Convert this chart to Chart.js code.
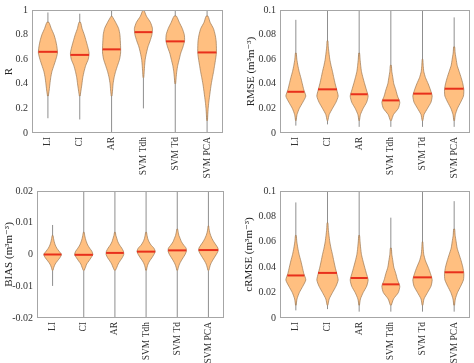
<!DOCTYPE html>
<html>
<head>
<meta charset="utf-8">
<script src="https://cdn.jsdelivr.net/npm/chart.js@4.4.1/dist/chart.umd.min.js"></script>
<style>
  html, body { margin: 0; padding: 0; background: #fff; }
  #wrap { position: relative; width: 474px; height: 363px; }
  canvas { position: absolute; }
</style>
</head>
<body>
<div id="wrap">
  <canvas id="c-r" width="226" height="181" style="left:0;top:0"></canvas>
  <canvas id="c-rmse" width="237" height="181" style="left:237px;top:0"></canvas>
  <canvas id="c-bias" width="228" height="182" style="left:0;top:181px"></canvas>
  <canvas id="c-crmse" width="237" height="182" style="left:237px;top:181px"></canvas>
</div>
<script>
const methods = ['LI', 'CI', 'AR', 'SVM Tdh', 'SVM Td', 'SVM PCA'];

// R panel: density (relative half-width) at each level, 0 = only the thin tail
const rLevels = [0, 0.05, 0.1, 0.15, 0.2, 0.25, 0.3, 0.35, 0.4, 0.45, 0.5, 0.55, 0.6, 0.65, 0.7, 0.75, 0.8, 0.85, 0.9, 0.95, 1];
const rLI   = [0, 0, 0, 0, 0, 0, 0.4, 1.3, 2, 2.8, 4, 6, 8, 9.5, 9, 7.8, 6, 3.3, 1, 0, 0];
const rCI   = [0, 0, 0, 0, 0, 0, 0.4, 1.3, 2.2, 3, 4.3, 6, 8.5, 9.3, 8, 6.3, 4.5, 2.3, 0.8, 0, 0];
const rAR   = [0, 0, 0, 0, 0, 0, 0.4, 1, 1.5, 2.5, 4, 6, 8, 9, 9, 8.7, 8.3, 7, 4, 0.4, 0];
const rTdh  = [0, 0, 0, 0, 0, 0, 0, 0, 0, 0.4, 0.8, 1.2, 1.8, 3, 4.5, 6.7, 8.5, 9, 7, 3, 0.5];
const rTd   = [0, 0, 0, 0, 0, 0, 0, 0, 0.4, 0.9, 1.5, 2.5, 4, 5.5, 7.7, 9.3, 9, 7, 4, 1.2, 0];
const rPCA  = [0, 0, 0.4, 0.7, 1.1, 1.7, 2.5, 3.3, 4.2, 5.3, 6.5, 7.5, 8.5, 9.3, 9.3, 9, 8, 6.3, 3, 1, 0];
const rMedian = [0.66, 0.635, 0.68, 0.82, 0.745, 0.655];
const rMedianDensity = [9.5, 9.3, 9, 8.8, 9.3, 9.3];
const rMin = [0.12, 0.11, 0, 0.2, 0, 0];
const rMax = [0.98, 0.97, 1, 1, 1, 1];

// RMSE panel
const eLevels = [0, 0.005, 0.01, 0.015, 0.02, 0.025, 0.03, 0.035, 0.04, 0.045, 0.05, 0.055, 0.06, 0.065, 0.07, 0.075, 0.08, 0.085, 0.09, 0.095, 0.1];
const mLI   = [0, 0, 0.3, 1.2, 3.5, 7, 10, 8, 6.5, 5, 3.3, 2, 1, 0.4, 0, 0, 0, 0, 0, 0, 0];
const mCI   = [0, 0, 0.4, 1.7, 5, 8.5, 10.7, 9.3, 7.7, 6.3, 5, 3.5, 2.3, 1.5, 0.8, 0.4, 0, 0, 0, 0, 0];
const mAR   = [0, 0, 0.3, 1.3, 4, 7.5, 9, 7.3, 5.5, 3.8, 2.3, 1.5, 0.9, 0.4, 0, 0, 0, 0, 0, 0, 0];
const mTdh  = [0, 0, 0.5, 2.7, 7.5, 9, 6.7, 5, 3, 2, 1, 0.5, 0, 0, 0, 0, 0, 0, 0, 0, 0];
const mTd   = [0, 0, 0.4, 1.5, 5, 8.5, 9.7, 8, 5.7, 3, 1.3, 0.7, 0.3, 0, 0, 0, 0, 0, 0, 0, 0];
const mPCA  = [0, 0, 0.4, 1.2, 3.3, 6.5, 9.3, 9.7, 8.7, 7, 5, 3, 2, 1, 0.5, 0, 0, 0, 0, 0, 0];
const mMedian = [0.0335, 0.0355, 0.0315, 0.0265, 0.032, 0.036];
const mMedianDensity = [8.5, 9.5, 8.5, 8.5, 9.3, 9.5];
const mMin = [0.006, 0.007, 0.005, 0.005, 0.005, 0.005];
const mMax = [0.092, 0.1, 0.1, 0.1, 0.1, 0.094];

// BIAS panel
const bLevels = [-0.008, -0.007, -0.006, -0.005, -0.004, -0.003, -0.002, -0.001, 0, 0.001, 0.002, 0.003, 0.004, 0.005, 0.006, 0.007, 0.008, 0.009];
const bLI   = [0, 0, 0, 0.4, 1.3, 2.7, 5, 7.5, 9, 6.7, 4.3, 2.7, 1.7, 1, 0.4, 0, 0, 0];
const bCI   = [0, 0, 0, 0.5, 1.8, 3, 5.3, 7.5, 9.3, 8.3, 6, 4, 2.7, 1.7, 1, 0.4, 0, 0];
const bAR   = [0, 0, 0, 0.5, 2, 3.3, 5.3, 7.5, 9, 8.7, 7, 4.7, 3, 2, 1, 0.4, 0, 0];
const bTdh  = [0, 0, 0, 0.4, 1, 2, 3.7, 6, 8, 9.3, 8, 5, 3, 1.7, 1, 0.4, 0, 0];
const bTd   = [0, 0, 0, 0.4, 1.2, 2.3, 4, 6, 8, 9.3, 9, 6.5, 4.3, 3, 1.7, 1, 0.4, 0];
const bPCA  = [0, 0, 0, 0.5, 1.3, 2.3, 4, 6, 8, 9.7, 9.7, 7.7, 5.5, 3.7, 2.3, 1.3, 0.7, 0.3];
const bMedian = [0, -0.0001, 0.0005, 0.0009, 0.0013, 0.0014];
const bMedianDensity = [9, 9.3, 9, 9.3, 9.3, 10];
const bMin = [-0.0099, -0.02, -0.02, -0.02, -0.02, -0.02];
const bMax = [0.0093, 0.02, 0.02, 0.02, 0.02, 0.02];

// cRMSE panel
const cLI   = [0, 0, 0.3, 1.2, 3.5, 7, 10, 8, 6.5, 5, 3.3, 2, 1, 0.4, 0, 0, 0, 0, 0, 0, 0];
const cCI   = [0, 0, 0.4, 1.7, 5, 8.5, 10.7, 9.3, 7.7, 6.3, 5, 3.5, 2.3, 1.5, 0.8, 0.4, 0, 0, 0, 0, 0];
const cAR   = [0, 0, 0.3, 1.3, 4, 7.5, 9, 7.3, 5.5, 3.8, 2.3, 1.5, 0.9, 0.4, 0, 0, 0, 0, 0, 0, 0];
const cTdh  = [0, 0, 0.5, 2.7, 7.5, 9, 6.7, 5, 3, 2, 1, 0.5, 0, 0, 0, 0, 0, 0, 0, 0, 0];
const cTd   = [0, 0, 0.4, 1.5, 5, 8.5, 9.7, 8, 5.7, 3, 1.3, 0.7, 0.3, 0, 0, 0, 0, 0, 0, 0, 0];
const cPCA  = [0, 0, 0.4, 1.2, 3.3, 6.5, 9.3, 9.7, 8.7, 7, 5, 3, 2, 1, 0.5, 0, 0, 0, 0, 0, 0];
const cMedian = [0.0335, 0.0355, 0.0315, 0.0265, 0.032, 0.036];
const cMedianDensity = [8.5, 9.5, 8.5, 8.5, 9.3, 9.5];
const cMin = [0.006, 0.007, 0.005, 0.005, 0.005, 0.005];
const cMax = [0.091, 0.1, 0.1, 0.079, 0.1, 0.092];

const FONT = "'Liberation Serif', 'DejaVu Serif', serif";
const FILL = '#ffbf80';
const EDGE = 'rgba(150,115,80,0.85)';
const TAIL = '#8f8f8f';
const RED = '#e8301c';
const WSCALE = 0.0315; // density -> half width in category units

const frame = {
  id: 'frame',
  afterDatasetsDraw(chart) {
    const { ctx, chartArea: a } = chart;
    ctx.save();
    ctx.strokeStyle = '#a6a6a6';
    ctx.lineWidth = 1;
    ctx.strokeRect(a.left + 0.5, a.top + 0.5, a.right - a.left - 1, a.bottom - a.top - 1);
    ctx.restore();
  }
};

function violinSets(levels, densities, medians, medDens, mins, maxs) {
  const sets = [];
  densities.forEach((dens, i) => {
    const cx = i + 1;
    const prof = levels.map((y, k) => ({ y, d: dens[k] })).filter(p => p.d > 0);
    const right = prof.map(p => ({ x: cx + p.d * WSCALE, y: p.y }));
    const left = prof.slice().reverse().map(p => ({ x: cx - p.d * WSCALE, y: p.y }));
    // thin tail from min to max
    sets.push({
      data: [{ x: cx, y: mins[i] }, { x: cx, y: maxs[i] }],
      borderColor: TAIL, borderWidth: 1, fill: false, order: 3
    });
    // violin body
    sets.push({
      data: right.concat(left),
      borderColor: EDGE, backgroundColor: FILL, borderWidth: 0.8,
      fill: 'shape', tension: 0.2, order: 2
    });
    // median bar
    const mw = medDens[i] * WSCALE;
    sets.push({
      data: [{ x: cx - mw, y: medians[i] }, { x: cx + mw, y: medians[i] }],
      borderColor: RED, borderWidth: 2, fill: false, order: 1
    });
  });
  return sets;
}

function makeChart(id, p) {
  return new Chart(document.getElementById(id), {
    type: 'line',
    data: { datasets: violinSets(p.levels, p.densities, p.medians, p.medDens, p.mins, p.maxs) },
    options: {
      responsive: false,
      animation: false,
      elements: { point: { radius: 0, hoverRadius: 0 } },
      layout: { padding: { top: p.padTop, right: p.padRight, left: 0, bottom: 0 } },
      plugins: { legend: { display: false }, tooltip: { enabled: false } },
      scales: {
        x: {
          type: 'linear', min: 0.5, max: 6.5,
          grid: { display: false, drawTicks: false },
          border: { display: false },
          afterBuildTicks: s => { s.ticks = methods.map((m, k) => ({ value: k + 1 })); },
          afterFit: s => { s.height = p.xHeight; },
          ticks: {
            autoSkip: false, minRotation: 90, maxRotation: 90, padding: 4,
            color: '#333', font: { family: FONT, size: 9.5 },
            callback: v => methods[Math.round(v) - 1]
          }
        },
        y: {
          min: p.min, max: p.max,
          grid: { display: false, drawTicks: false },
          border: { display: false },
          afterFit: s => { s.width = p.yWidth; },
          ticks: {
            stepSize: p.step, padding: 4, color: '#333',
            font: { family: FONT, size: 10 },
            callback: v => String(parseFloat(v.toFixed(4)))
          },
          title: {
            display: true, text: p.title, color: '#222',
            font: { family: FONT, size: 11 },
            padding: { top: p.titlePad, bottom: 0 }
          }
        }
      }
    },
    plugins: [frame]
  });
}

makeChart('c-r', {
  levels: rLevels, densities: [rLI, rCI, rAR, rTdh, rTd, rPCA],
  medians: rMedian, medDens: rMedianDensity, mins: rMin, maxs: rMax,
  min: 0, max: 1, step: 0.2, title: 'R',
  yWidth: 32, xHeight: 48, padTop: 5, padRight: 3, titlePad: 3
});
makeChart('c-rmse', {
  levels: eLevels, densities: [mLI, mCI, mAR, mTdh, mTd, mPCA],
  medians: mMedian, medDens: mMedianDensity, mins: mMin, maxs: mMax,
  min: 0, max: 0.1, step: 0.02, title: 'RMSE (m³m⁻³)',
  yWidth: 43, xHeight: 48, padTop: 5, padRight: 4, titlePad: 8
});
makeChart('c-bias', {
  levels: bLevels, densities: [bLI, bCI, bAR, bTdh, bTd, bPCA],
  medians: bMedian, medDens: bMedianDensity, mins: bMin, maxs: bMax,
  min: -0.02, max: 0.02, step: 0.01, title: 'BIAS (m³m⁻³)',
  yWidth: 37, xHeight: 45, padTop: 9, padRight: 4, titlePad: 3
});
makeChart('c-crmse', {
  levels: eLevels, densities: [cLI, cCI, cAR, cTdh, cTd, cPCA],
  medians: cMedian, medDens: cMedianDensity, mins: cMin, maxs: cMax,
  min: 0, max: 0.1, step: 0.02, title: 'cRMSE (m³m⁻³)',
  yWidth: 43, xHeight: 45, padTop: 9, padRight: 4, titlePad: 6
});
</script>
</body>
</html>
